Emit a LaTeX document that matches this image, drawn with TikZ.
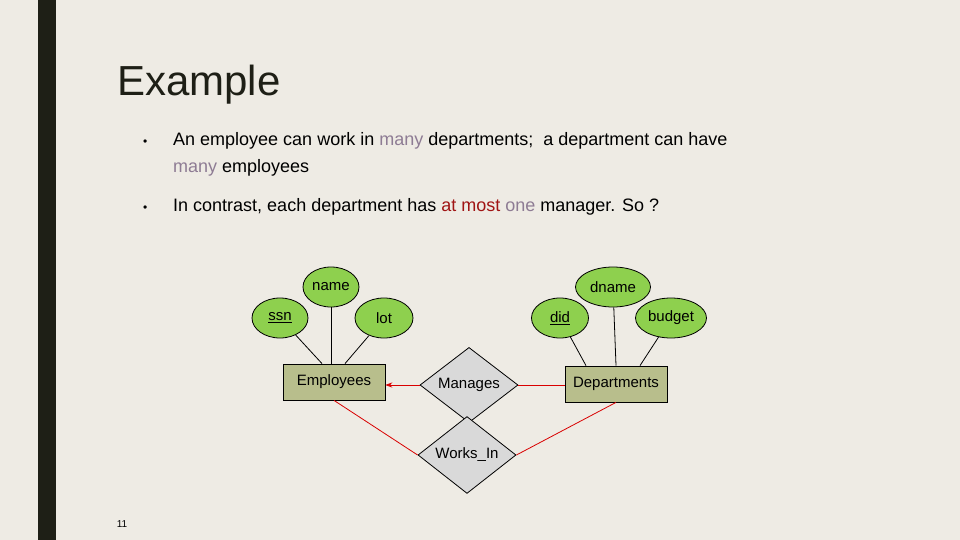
\documentclass[tikz,border=0pt]{standalone}
\usepackage{fontspec}
\setmainfont{Liberation Sans}
\usepackage{tikz}
\usetikzlibrary{shapes.geometric, arrows.meta}
\definecolor{slidebg}{HTML}{EEEBE4}
\definecolor{barcol}{HTML}{1E1F16}
\definecolor{attrgreen}{HTML}{8ED04E}
\definecolor{entgreen}{HTML}{B8BE8C}
\definecolor{relgray}{HTML}{D9D9D9}
\definecolor{manycol}{HTML}{8E7C94}
\definecolor{mostcol}{HTML}{A01414}
\tikzset{
    attr/.style={ellipse, draw, thick, fill=attrgreen, minimum width=#1, minimum height=40pt, inner sep=0pt, font=\fontsize{15}{15}\selectfont},
    entity/.style={draw, thick, fill=entgreen, minimum width=102pt, minimum height=36pt, inner sep=0pt, font=\fontsize{15}{15}\selectfont},
    rel/.style={diamond, draw, thick, fill=relgray, minimum width=98pt, minimum height=#1, inner sep=0pt, font=\fontsize{15}{15}\selectfont},
    link/.style={red!85!black, thick}
}
\begin{document}
\begin{tikzpicture}[x=1pt, y=-1pt]
    \useasboundingbox (0, 0) rectangle (960, 540);
    \fill[slidebg] (0, 0) rectangle (960, 540);
    \fill[barcol] (38, 0) rectangle (56, 540);

    % Title and bullets
    \node[anchor=base west, inner sep=0pt, font=\fontsize{42}{42}\selectfont, text=barcol] (title) at (117, 96) {Example};
    \node[anchor=base west, inner sep=0pt, font=\fontsize{12}{12}\selectfont] (b1) at (143, 146) {\textbullet};
    \node[anchor=base west, inner sep=0pt, font=\fontsize{18}{18}\selectfont] (l1) at (173, 146) {An employee can work in \textcolor{manycol}{many} departments;\ \ a department can have};
    \node[anchor=base west, inner sep=0pt, font=\fontsize{18}{18}\selectfont] (l2) at (173, 173) {\textcolor{manycol}{many} employees};
    \node[anchor=base west, inner sep=0pt, font=\fontsize{12}{12}\selectfont] (b2) at (143, 211) {\textbullet};
    \node[anchor=base west, inner sep=0pt, font=\fontsize{18}{18}\selectfont] (l3) at (173, 211) {In contrast, each department has \textcolor{mostcol}{at most} \textcolor{manycol}{one} manager. So ?};

    % Attributes
    \node[attr=56pt] (ssn) at (280, 318) {\underline{ssn}};
    \node[attr=56pt] (name) at (331, 287) {name};
    \node[attr=58pt] (lot) at (384, 318) {lot};
    \node[attr=57pt] (did) at (560, 318) {\underline{did}};
    \node[attr=75pt] (dname) at (613, 287) {dname};
    \node[attr=71pt] (budget) at (671, 318) {budget};

    % Entities and relationships
    \node[entity] (emp) at (334, 382) {Employees};
    \node[entity] (dept) at (616, 384) {Departments};
    \node[rel=74pt] (manages) at (469, 385) {Manages};
    \node[rel=55pt] (works) at (467, 455) {Works\_In};

    % Attribute links
    \draw[thick] (ssn) -- (emp.north -| 322, 0);
    \draw[thick] (name) -- (emp.north -| 331, 0);
    \draw[thick] (lot) -- (emp.north -| 345, 0);
    \draw[thick] (did) -- (dept.north -| 586, 0);
    \draw[thick] (dname) -- (dept.north -| 616, 0);
    \draw[thick] (budget) -- (dept.north -| 640, 0);

    % Relationship links
    \draw[link, -{Stealth[length=7pt]}] (manages.west) -- (manages.west -| emp.east);
    \draw[link] (manages.east) -- (manages.east -| dept.west);
    \draw[link] (emp.south) -- (works.west);
    \draw[link] (works.east) -- (dept.south);

    \node[font=\fontsize{10}{10}\selectfont] (page) at (122, 524) {11};
\end{tikzpicture}
\end{document}
